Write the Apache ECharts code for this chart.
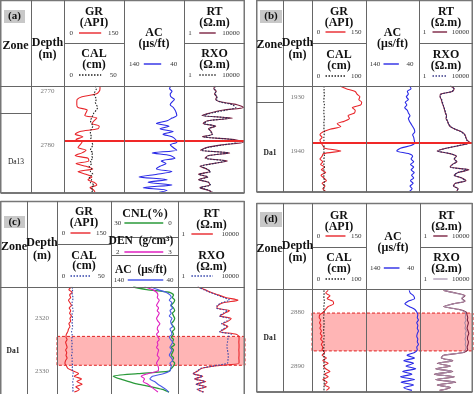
<!DOCTYPE html>
<html><head><meta charset="utf-8">
<script src="https://cdn.jsdelivr.net/npm/echarts@6/dist/echarts.min.js"></script>
<style>html,body{margin:0;padding:0;background:#fff}#c{width:474px;height:394px}</style>
</head><body><div id="c"></div>
<script>
// ---------- Panel (a) ----------
const depthA = [2769,2769.5,2770,2770.5,2771,2771.5,2772,2772.5,2773,2773.5,2774,2774.5,2775,2775.5,2776,2776.5,2777,2777.5,2778,2778.5,2779,2779.5,2780,2780.5,2781,2781.5,2782,2782.5,2783,2783.5,2784,2784.5,2785,2785.5,2786,2786.5,2787,2787.5,2788,2788.5,2789];
const grA  = [90,90,88,80,45,33,32,32,35,58,55,52,82,75,70,88,85,40,28,47,30,45,40,35,55,45,28,60,62,30,55,72,35,55,70,60,75,82,65,75,78];
const calA = [26,27,26,25,26,27,26,27,28,27,25,24,23,22,23,24,23,22,22,23,22,23,24,23,22,24,23,24,22,23,21,23,22,24,21,23,22,25,23,24,22];
const acA  = [62,64,60,63,62,56,60,63,58,55,53,52,60,68,86,65,80,58,75,60,54,52,63,58,52,93,63,55,78,70,80,86,60,85,115,68,100,60,108,68,85];
const rtA  = [110,90,130,100,140,120,300,3000,8000,400,60,15,1500,35,18,120,40,60,70,16,2000,8000,300,30,12,1000,40,24,700,80,11,30,50,9,35,9,40,50,11,40,80];
const rxoA = [120,100,120,110,150,130,250,1500,2500,600,80,18,900,40,20,110,45,55,75,20,1500,3000,400,35,14,800,45,28,500,90,13,32,55,10,38,10,42,55,12,45,85];
const depthTicksA = [2770, 2780];
const redLineA = 2779.26;

// ---------- Panel (b) ----------
const depthB = [1928,1928.5,1929,1929.5,1930,1930.5,1931,1931.5,1932,1932.5,1933,1933.5,1934,1934.5,1935,1935.5,1936,1936.5,1937,1937.5,1938,1938.5,1939,1939.5,1940,1940.5,1941,1941.5,1942,1942.5,1943,1943.5,1944,1944.5,1945,1945.5,1946,1946.5,1947,1947.5];
const grB  = [78,95,120,125,133,130,138,135,112,120,118,100,104,90,70,80,50,30,22,28,22,25,30,35,80,32,28,22,30,24,35,26,38,25,33,40,28,36,30,38];
const calB = [22,22.5,22,23,22.5,22,22,23,22.5,22,22,22.5,23,22,22,22.5,22,23,22.5,22,22,23,22.5,22,22,22.5,23,22,22.5,22,23,22,22.5,22,22,23,22.5,22,22,22.5];
const acB  = [58,55,62,60,64,60,66,63,67,62,60,57,60,58,55,52,49,48,52,50,49,48,55,75,82,60,52,55,50,56,50,55,49,54,50,56,51,57,53,58];
const rtB  = [200,400,300,40,36,45,50,60,70,80,90,110,100,130,150,200,500,1500,2500,3000,3600,6000,1000,100,22,200,600,400,650,300,200,5000,800,400,1500,3000,500,350,800,600];
const rxoB = [220,380,280,45,38,48,55,62,72,85,95,105,110,125,160,220,480,1400,2300,2800,3400,5000,900,110,25,210,550,420,600,320,220,4000,750,420,1400,2600,520,380,750,620];
const depthTicksB = [1930, 1940];
const redLineB = 1938.5;

// ---------- Panel (c) ----------
const depthC = [2314,2314.5,2315,2315.5,2316,2316.5,2317,2317.5,2318,2318.5,2319,2319.5,2320,2320.5,2321,2321.5,2322,2322.5,2323,2323.5,2324,2324.5,2325,2325.5,2326,2326.5,2327,2327.5,2328,2328.5,2329,2329.5,2330,2330.5,2331,2331.5,2332,2332.5,2333,2333.5,2334];
const grC  = [40,33,42,35,38,32,36,40,34,38,35,40,36,38,33,36,32,30,26,25,28,24,26,28,24,27,25,28,24,22,26,30,45,60,48,68,55,70,52,62,48];
const calC = [14,14.5,14,14,15,14.5,14,14,14.5,15,14,14,14.5,14,14,14.5,14,13.5,14,14,13.5,14,14,13.5,14,14,13.5,14,14,14,14.5,14,14.5,15,14.5,15,14.5,15,14.5,15,14.5];
const cnlC = [20,14,4,2,2.5,1.5,2,3,2,1.5,2.5,2,1.5,2,3,2,1.5,2.5,2,3,2,2.5,1.5,3,2,2.5,3,2,2.5,1.5,2,3,4,18,29,26,22,18,12,7,4];
const denC = [2.5,2.62,2.68,2.7,2.69,2.72,2.7,2.68,2.71,2.69,2.72,2.7,2.68,2.7,2.73,2.7,2.69,2.71,2.68,2.7,2.72,2.69,2.7,2.68,2.71,2.7,2.69,2.72,2.7,2.68,2.7,2.71,2.7,2.55,2.45,2.5,2.48,2.55,2.6,2.65,2.7];
const acC  = [80,70,58,52,50,53,49,51,48,52,50,53,49,51,50,48,52,50,49,53,51,48,50,52,49,51,53,50,48,52,50,51,52,62,78,82,75,70,64,58,54];
const rtC  = [15,40,90,250,700,3800,500,250,210,1200,600,320,1500,1000,450,950,600,320,3000,4400,4400,4300,4400,4400,4300,4400,4400,4300,4400,4400,200,25,15,8,30,10,45,12,50,15,35];
const rxoC = [15,35,80,200,500,1200,400,220,200,900,500,300,1100,800,400,800,500,300,1500,1000,950,900,850,850,900,950,1000,1000,950,900,150,22,14,8,28,10,40,12,45,14,32];
const depthTicksC = [2320, 2330];
const bandC = [2323.4, 2328.9];

// ---------- Panel (d) ----------
const depthD = [2876,2876.5,2877,2877.5,2878,2878.5,2879,2879.5,2880,2880.5,2881,2881.5,2882,2882.5,2883,2883.5,2884,2884.5,2885,2885.5,2886,2886.5,2887,2887.5,2888,2888.5,2889,2889.5,2890,2890.5,2891,2891.5,2892,2892.5,2893,2893.5,2894,2894.5];
const grD  = [45,38,50,42,58,60,45,38,32,22,20,24,21,25,22,26,23,28,24,30,26,30,28,35,28,40,30,45,32,38,50,35,45,30,42,35,48,40];
const calD = [22,22.5,22,22,23,22.5,22,22,22.5,22,21.5,22,22.5,22,22,21.5,22,22.5,22,22,22.5,22,21.5,22,22.5,22,23,22,22.5,22,23,22.5,22,22.5,23,22,22.5,22];
const acD  = [60,58,52,50,62,68,60,50,46,44,45,43,46,44,45,43,45,46,44,45,43,46,45,50,64,50,70,52,66,48,72,55,76,50,75,52,70,55];
const rtD  = [60,500,2500,1500,2500,300,60,800,3000,3500,4000,3800,4500,4000,3600,4200,4800,4000,3800,4500,4200,3600,4000,2000,60,40,300,20,200,15,300,12,400,15,500,20,200,30];
const rxoD = [65,450,2200,1400,2300,320,65,700,2500,2800,2600,3000,2400,2800,2500,3100,2600,2900,2500,2800,2600,3000,2700,1800,65,42,280,22,190,16,280,13,380,16,450,22,190,32];
const depthTicksD = [2880, 2890];
const bandD = [2880.2, 2887.2];

// ---------- styles ----------
const RED = '#e8262b', BLUE = '#2a2ae6', MAROON = '#7b2343', DOT = [1.5, 1.5];
const SERIF = '"Liberation Serif", "DejaVu Serif", serif';

const panels = [
  { id:'(a)', cols:[0,31,64,124,184,245], top:0, head:86, bottom:193, dep:[2769,2789],
    depth:depthA, ticks:depthTicksA, zone:{text:'Da13', x:16, y:162, bold:false}, zoneSplit:113, red:redLineA,
    box:[4,10,21,13],
    tracks:[
      {col:2, curves:[{v:grA,min:0,max:150,c:RED},{v:calA,min:0,max:50,c:'#222',d:DOT}]},
      {col:3, curves:[{v:acA,min:40,max:140,inv:true,c:BLUE}]},
      {col:4, curves:[{v:rtA,log:true,c:MAROON},{v:rxoA,log:true,c:'#2a2a55',d:DOT}]}
    ],
    hy:{zone:46, dep:[43,55], t1:[12,23,33], t2:[54,65,75], ac:[33,44,64], split:43},
    leg:{gr:['0','150',RED,null], cal:['0','50','#222',DOT], ac:['140','40',BLUE,null], rt:['1','10000',MAROON,null], rxo:['1','10000','#333',DOT]}
  },
  { id:'(b)', cols:[256,283,312,366,419,473], top:0, head:86, bottom:192, dep:[1928,1947.6],
    depth:depthB, ticks:depthTicksB, zone:{text:'Da1', x:270, y:153, bold:true}, zoneSplit:102, red:redLineB,
    box:[260,10,22,13],
    tracks:[
      {col:2, curves:[{v:grB,min:0,max:150,c:RED},{v:calB,min:0,max:100,c:'#222',d:DOT}]},
      {col:3, curves:[{v:acB,min:40,max:140,inv:true,c:BLUE}]},
      {col:4, curves:[{v:rtB,log:true,c:MAROON},{v:rxoB,log:true,c:'#2a2a66',d:DOT}]}
    ],
    hy:{zone:45, dep:[43,55], t1:[12,23,32], t2:[55,66,76], ac:[33,44,64], split:43},
    leg:{gr:['0','150',RED,null], cal:['0','100','#222',DOT], ac:['140','40',BLUE,null], rt:['1','10000',MAROON,null], rxo:['1','10000','#3a3a88',DOT]}
  },
  { id:'(c)', cols:[0,27,57,111,178,245], top:201, head:287, bottom:396, dep:[2314,2334.37],
    depth:depthC, ticks:depthTicksC, zone:{text:'Da1', x:13, y:351, bold:true}, band:bandC,
    box:[4,216,21,12],
    tracks:[
      {col:2, curves:[{v:grC,min:0,max:150,c:RED},{v:calC,min:0,max:50,c:'#3344aa',d:DOT}]},
      {col:3, curves:[{v:cnlC,min:0,max:30,inv:true,c:'#2a9a3a',w:1.3},{v:denC,min:2,max:3,c:'#e020c0'},{v:acC,min:40,max:140,inv:true,c:'#4a5ae8'}]},
      {col:4, curves:[{v:rtC,log:true,c:RED},{v:rxoC,log:true,c:'#3344aa',d:DOT}]}
    ]
  },
  { id:'(d)', cols:[256,283,312,366,420,473], top:203, head:289, bottom:392, dep:[2875.75,2894.8],
    depth:depthD, ticks:depthTicksD, zone:{text:'Da1', x:270, y:338, bold:true}, band:bandD,
    box:[260,212,22,15],
    tracks:[
      {col:2, curves:[{v:grD,min:0,max:150,c:RED},{v:calD,min:0,max:100,c:'#222',d:DOT}]},
      {col:3, curves:[{v:acD,min:40,max:140,inv:true,c:BLUE}]},
      {col:4, curves:[{v:rtD,log:true,c:MAROON},{v:rxoD,log:true,c:'#a58aa5'}]}
    ],
    hy:{zone:249, dep:[246,258], t1:[216,227,236], t2:[258,269,279], ac:[237,248,268], split:247},
    leg:{gr:['0','150',RED,null], cal:['0','100','#222',DOT], ac:['140','40',BLUE,null], rt:['1','10000',MAROON,null], rxo:['1','10000','#b0a0b8',null]}
  }
];

const grids=[], xAxes=[], yAxes=[], series=[], graphics=[];
function addGrid(l,r,t,b,dep){
  grids.push({left:l, top:t, width:r-l, height:b-t, containLabel:false, show:false});
  const gi = grids.length-1;
  yAxes.push({type:'value', gridIndex:gi, inverse:true, min:dep[0], max:dep[1], show:false});
  return gi;
}
function addX(gi, c){
  if (c && c.log) xAxes.push({type:'log', logBase:10, gridIndex:gi, min:1, max:10000, show:false});
  else xAxes.push({type:'value', gridIndex:gi, min:c?c.min:0, max:c?c.max:1, inverse:!!(c&&c.inv), show:false});
  return xAxes.length-1;
}
function txt(x,y,s,size,bold,color,align){
  graphics.push({type:'text', x:x, y:y, z:20, silent:true, style:{text:s, fill:color||'#111',
    font:(bold?'bold ':'')+size+'px '+SERIF, textAlign:align||'center', textVerticalAlign:'middle', align:align||'center', verticalAlign:'middle'}});
}
function ln(x1,y1,x2,y2,color,w,dash){
  graphics.push({type:'line', z:15, silent:true, shape:{x1:x1,y1:y1,x2:x2,y2:y2}, style:{stroke:color, lineWidth:w, lineDash:dash||null}});
}
function legend(l,w,y,n1,n2,color,dash,f){
  f = f || [0.12,0.25,0.62,0.82];
  txt(l+w*f[0], y, n1, 7, false, '#333');
  ln(l+w*f[1], y, l+w*f[2], y, color, 1.4, dash);
  txt(l+w*f[3], y, n2, 7, false, '#333');
}

panels.forEach(p => {
  const c = p.cols;
  p.tracks.forEach(t => {
    const gi = addGrid(c[t.col], c[t.col+1], p.head, p.bottom, p.dep);
    t.curves.forEach(cv => {
      const xi = addX(gi, cv);
      series.push({type:'line', xAxisIndex:xi, yAxisIndex:gi, symbol:'none', silent:true, z:5, smooth:0.25,
        data: p.depth.map((d,i)=>[cv.v[i], d]),
        lineStyle:{color:cv.c, width:cv.w||1.1, type: cv.d || 'solid'}});
    });
  });
  const dg = addGrid(c[1], c[2], p.head, p.bottom, p.dep);
  const dx = addX(dg, null);
  series.push({type:'scatter', xAxisIndex:dx, yAxisIndex:dg, symbolSize:0, silent:true,
    data: p.ticks.map(v=>[0.5, v]),
    label:{show:true, position:'inside', formatter: q=>String(q.value[1]), fontSize:7, color:'#555', fontFamily:SERIF}});
  const og = addGrid(c[2], c[5], p.head, p.bottom, p.dep);
  const ox = addX(og, null);
  const ov = {type:'line', xAxisIndex:ox, yAxisIndex:og, symbol:'none', silent:true, data:[], z:3, lineStyle:{width:0}};
  if (p.band) ov.markArea = {silent:true, z:3, itemStyle:{color:'rgba(255,60,60,0.38)', borderColor:'#e02020', borderWidth:1, borderType:[3,2]},
    data:[[{yAxis:p.band[0]},{yAxis:p.band[1]}]]};
  if (p.red !== undefined) ov.markLine = {silent:true, symbol:'none', label:{show:false}, z:6,
    lineStyle:{color:'#f02828', width:2, type:'solid'}, data:[{yAxis:p.red}]};
  series.push(ov);

  const G='#666';
  ln(c[0]+0.5, p.top+0.5, c[5]-0.5, p.top+0.5, '#777', 1.5);
  ln(c[0]+0.5, p.bottom, c[5]-0.5, p.bottom, '#777', 2);
  ln(c[0]+0.75, p.top, c[0]+0.75, p.bottom, '#777', 1.5);
  ln(c[5]-0.75, p.top, c[5]-0.75, p.bottom, '#777', 1.5);
  for (let i=1;i<5;i++) ln(c[i]+0.5, p.top, c[i]+0.5, p.bottom, G, 1);
  ln(c[0], p.head+0.5, c[5], p.head+0.5, G, 1);
  if (p.zoneSplit) ln(c[0], p.zoneSplit+0.5, c[1], p.zoneSplit+0.5, G, 1);
  graphics.push({type:'rect', z:14, silent:true, shape:{x:p.box[0], y:p.box[1], width:p.box[2], height:p.box[3]}, style:{fill:'#c8c8c8'}});
  txt(p.box[0]+p.box[2]/2, p.box[1]+p.box[3]/2, p.id, 11, true);
  txt(p.zone.x, p.zone.y, p.zone.text, 7.5, p.zone.bold, '#222');
});

[panels[0], panels[1], panels[3]].forEach(p => {
  const c = p.cols, h = p.hy, L = p.leg;
  const mid = i => (c[i]+c[i+1])/2, wd = i => c[i+1]-c[i];
  txt(mid(0), h.zone, 'Zone', 12, true);
  txt(mid(1), h.dep[0], 'Depth', 12, true);
  txt(mid(1), h.dep[1], '(m)', 12, true);
  ln(c[2], h.split+0.5, c[3], h.split+0.5, '#666', 1);
  ln(c[4], h.split+0.5, c[5], h.split+0.5, '#666', 1);
  txt(mid(2), h.t1[0], 'GR', 12, true); txt(mid(2), h.t1[1], '(API)', 12, true);
  legend(c[2], wd(2), h.t1[2], L.gr[0], L.gr[1], L.gr[2], L.gr[3]);
  txt(mid(2), h.t2[0], 'CAL', 12, true); txt(mid(2), h.t2[1], '(cm)', 12, true);
  legend(c[2], wd(2), h.t2[2], L.cal[0], L.cal[1], L.cal[2], L.cal[3]);
  txt(mid(3), h.ac[0], 'AC', 12, true); txt(mid(3), h.ac[1], '(μs/ft)', 12, true);
  legend(c[3], wd(3), h.ac[2], L.ac[0], L.ac[1], L.ac[2], L.ac[3], [0.17,0.33,0.62,0.83]);
  txt(mid(4), h.t1[0], 'RT', 12, true); txt(mid(4), h.t1[1], '(Ω.m)', 12, true);
  legend(c[4], wd(4), h.t1[2], L.rt[0], L.rt[1], L.rt[2], L.rt[3], [0.1,0.25,0.52,0.77]);
  txt(mid(4), h.t2[0], 'RXO', 12, true); txt(mid(4), h.t2[1], '(Ω.m)', 12, true);
  legend(c[4], wd(4), h.t2[2], L.rxo[0], L.rxo[1], L.rxo[2], L.rxo[3], [0.1,0.25,0.52,0.77]);
});

(function(){
  const p = panels[2], c = p.cols;
  txt(14, 247, 'Zone', 12, true);
  txt(42, 243, 'Depth', 12, true); txt(42, 256, '(m)', 12, true);
  ln(c[2], 244.5, c[3], 244.5, '#666', 1);
  ln(c[3], 237.5, c[4], 237.5, '#666', 1);
  ln(c[3], 255.5, c[4], 255.5, '#666', 1);
  txt(84, 212, 'GR', 12, true); txt(84, 223, '(API)', 12, true);
  legend(c[2], 54, 233, '0', '150', RED, null);
  txt(84, 256, 'CAL', 12, true); txt(84, 266, '(cm)', 12, true);
  legend(c[2], 54, 276, '0', '50', '#3344aa', DOT);
  txt(145, 214, 'CNL(%)', 12, true);
  legend(c[3], 67, 223, '30', '0', '#2a9a3a', null, [0.1,0.2,0.78,0.88]);
  txt(141, 241, 'DEN  (g/cm³)', 11.5, true);
  legend(c[3], 67, 252, '2', '3', '#e020c0', null, [0.1,0.2,0.78,0.88]);
  txt(141, 270, 'AC  (μs/ft)', 11.5, true);
  legend(c[3], 67, 280, '140', '40', '#4a5ae8', null, [0.12,0.25,0.78,0.88]);
  txt(211.5, 214, 'RT', 12, true); txt(211.5, 225, '(Ω.m)', 12, true);
  legend(c[4], 67, 234, '1', '10000', RED, null, [0.08,0.2,0.52,0.78]);
  txt(211.5, 256, 'RXO', 12, true); txt(211.5, 267, '(Ω.m)', 12, true);
  legend(c[4], 67, 276, '1', '10000', '#3344aa', DOT, [0.08,0.2,0.52,0.78]);
})();

const chart = echarts.init(document.getElementById('c'), null, {renderer:'canvas'});
chart.setOption({
  animation:false, backgroundColor:'#fff',
  grid:grids, xAxis:xAxes, yAxis:yAxes, series:series, graphic:{elements:graphics}
});
</script></body></html>
